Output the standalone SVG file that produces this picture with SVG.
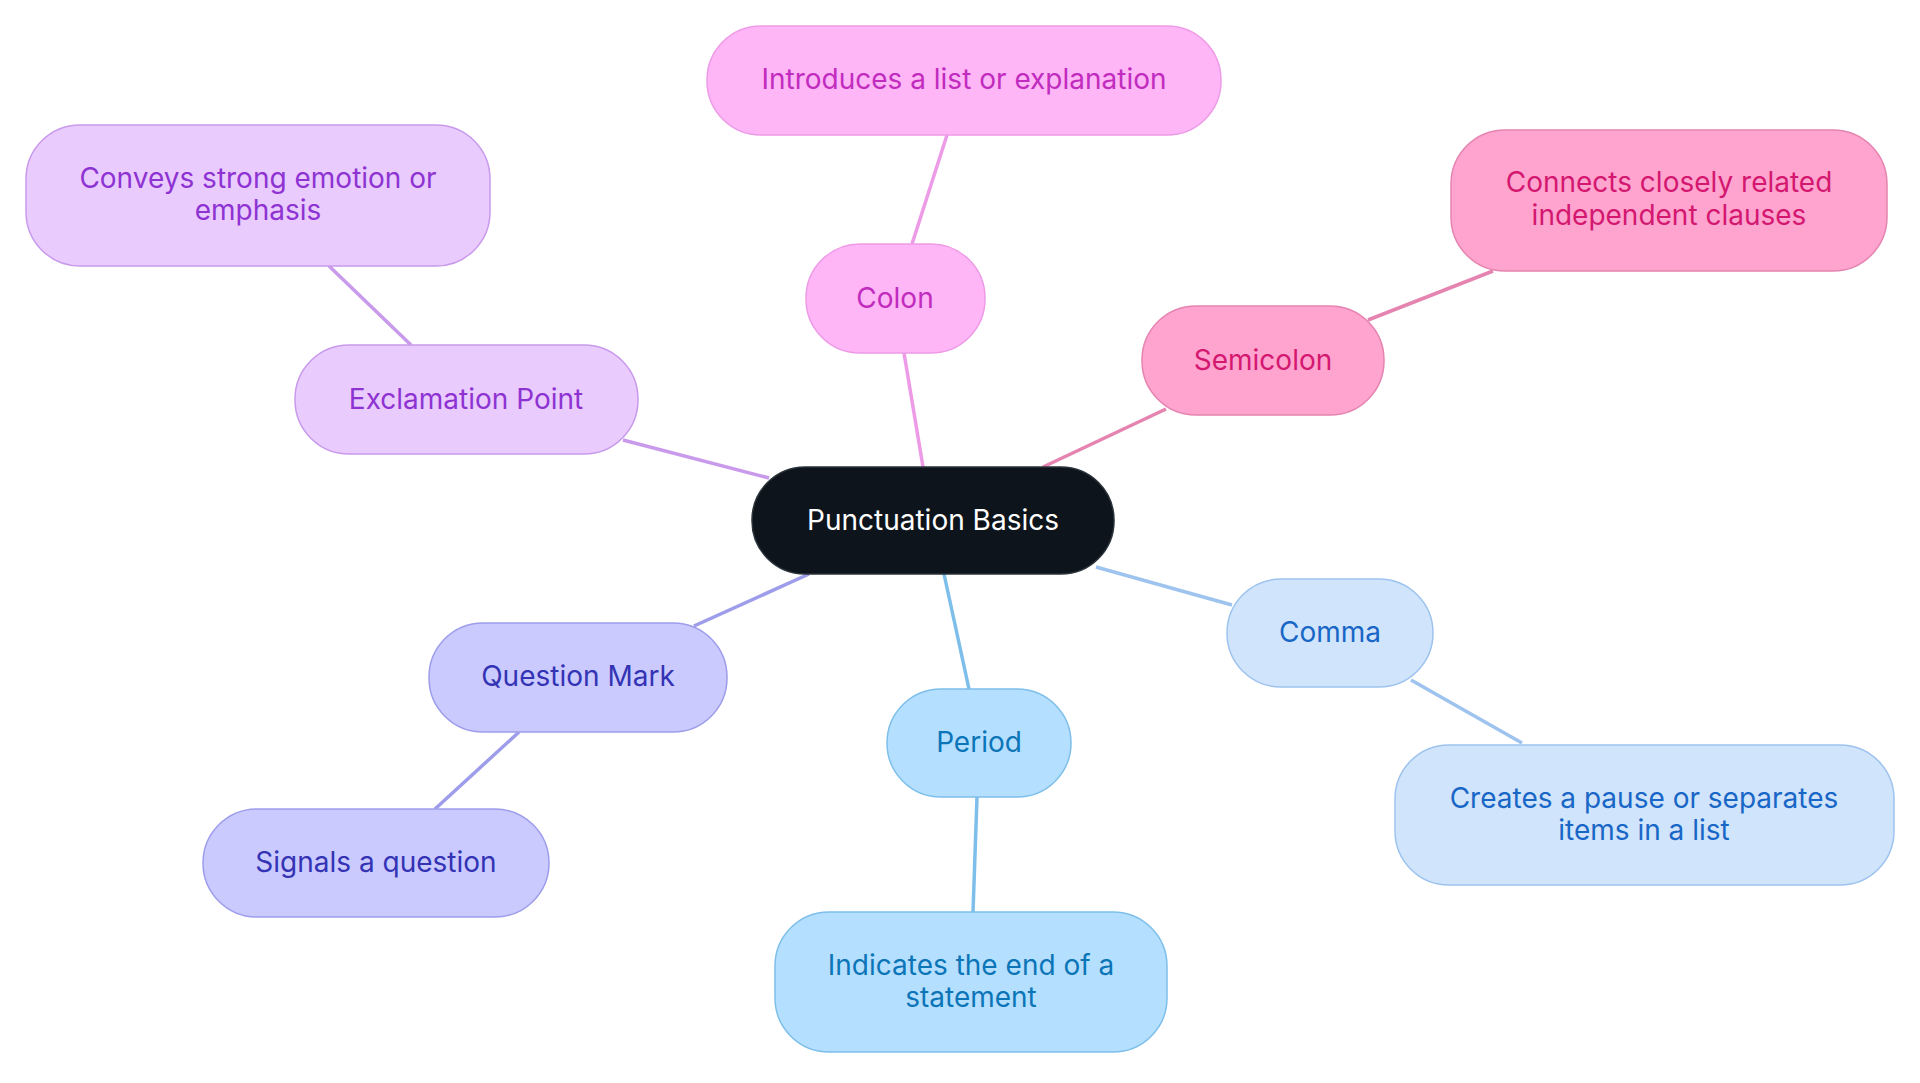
<svg xmlns="http://www.w3.org/2000/svg" width="1920" height="1083" viewBox="0 0 1920 1083">
<style>
text{font-family:Inter,"Noto Sans",sans-serif;font-size:28px;text-anchor:middle;dominant-baseline:central}
.c line{stroke-width:3.5;fill:none}
rect{stroke-width:1.5}
.ex rect{fill:#E9CBFE;stroke:#C99AEC}.ex text{fill:#8E33D2}
.co rect{fill:#FEB6F6;stroke:#EE9BE7}.co text{fill:#C12BBE}
.se rect{fill:#FEA4CF;stroke:#E584B0}.se text{fill:#D4176F}
.cm rect{fill:#D0E4FC;stroke:#9DC3EE}.cm text{fill:#1866C6}
.pe rect{fill:#B5DFFF;stroke:#7DBFEA}.pe text{fill:#0B75B7}
.qu rect{fill:#CACAFF;stroke:#9D9DEB}.qu text{fill:#3333B4}
</style>
<rect width="1920" height="1083" fill="#fff" stroke="none"/>
<g class="c" id="connectors">
<line x1="769" y1="478" x2="623" y2="440" stroke="#C99AEC"/>
<line x1="411" y1="345" x2="329" y2="266" stroke="#C99AEC"/>
<line x1="923" y1="467" x2="904" y2="353" stroke="#EE9BE7"/>
<line x1="912" y1="244" x2="947" y2="135" stroke="#EE9BE7"/>
<line x1="1043" y1="467" x2="1166" y2="409" stroke="#E584B0"/>
<line x1="1368" y1="320" x2="1493" y2="271" stroke="#E584B0"/>
<line x1="1096" y1="567" x2="1232" y2="605" stroke="#9DC3EE"/>
<line x1="1411" y1="680" x2="1522" y2="743" stroke="#9DC3EE"/>
<line x1="944" y1="574" x2="969" y2="689" stroke="#7DBFEA"/>
<line x1="977" y1="797" x2="973" y2="912" stroke="#7DBFEA"/>
<line x1="809" y1="574" x2="694" y2="626" stroke="#9D9DEB"/>
<line x1="519" y1="732" x2="435" y2="809" stroke="#9D9DEB"/>
</g>
<g id="center"><rect x="752" y="467" width="362" height="107" rx="53" fill="#0D141B" stroke="#2A323A"/><text x="933" y="520" fill="#fff">Punctuation Basics</text></g>
<g id="excl" class="ex"><rect x="295" y="345" width="343" height="109" rx="54"/><text x="466" y="399">Exclamation Point</text></g>
<g id="excl-leaf" class="ex"><rect x="26" y="125" width="464" height="141" rx="54"/><text x="258" y="178">Conveys strong emotion or</text><text x="258" y="210">emphasis</text></g>
<g id="colon" class="co"><rect x="806" y="244" width="179" height="109" rx="54"/><text x="895" y="298">Colon</text></g>
<g id="colon-leaf" class="co"><rect x="707" y="26" width="514" height="109" rx="54"/><text x="964" y="79">Introduces a list or explanation</text></g>
<g id="semi" class="se"><rect x="1142" y="306" width="242" height="109" rx="54"/><text x="1263" y="360">Semicolon</text></g>
<g id="semi-leaf" class="se"><rect x="1451" y="130" width="436" height="141" rx="54"/><text x="1669" y="182">Connects closely related</text><text x="1669" y="215">independent clauses</text></g>
<g id="comma" class="cm"><rect x="1227" y="579" width="206" height="108" rx="54"/><text x="1330" y="632">Comma</text></g>
<g id="comma-leaf" class="cm"><rect x="1395" y="745" width="499" height="140" rx="54"/><text x="1644" y="798">Creates a pause or separates</text><text x="1644" y="830">items in a list</text></g>
<g id="period" class="pe"><rect x="887" y="689" width="184" height="108" rx="54"/><text x="979" y="742">Period</text></g>
<g id="period-leaf" class="pe"><rect x="775" y="912" width="392" height="140" rx="54"/><text x="971" y="965">Indicates the end of a</text><text x="971" y="997">statement</text></g>
<g id="question" class="qu"><rect x="429" y="623" width="298" height="109" rx="54"/><text x="578" y="676">Question Mark</text></g>
<g id="question-leaf" class="qu"><rect x="203" y="809" width="346" height="108" rx="54"/><text x="376" y="862">Signals a question</text></g>
</svg>
